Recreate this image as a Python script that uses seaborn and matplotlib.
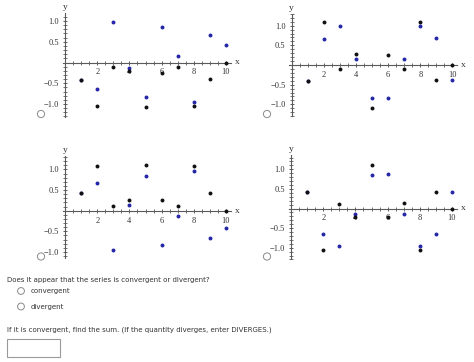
import numpy as np
import pandas as pd
import matplotlib
matplotlib.use("Agg")
import matplotlib.pyplot as plt
import seaborn as sns
from matplotlib.patches import Circle, Rectangle

sns.set_style("white")

# ---- data ----
n = [1, 2, 3, 4, 5, 6, 7, 8, 9, 10]

black_1 = [-0.41, -1.06, -0.10, -0.21, -1.08, -0.25, -0.10, -1.06, -0.40, 0.00]
blue_1 = [-0.41, -0.64, 0.97, -0.14, -0.82, 0.86, 0.15, -0.94, 0.66, 0.41]

black_2 = [-0.41, 1.09, -0.10, 0.28, -1.09, 0.26, -0.10, 1.09, -0.39, 0.00]
blue_2 = [-0.41, 0.66, 0.98, 0.16, -0.83, -0.83, 0.15, 0.98, 0.68, -0.39]

black_3 = [0.42, 1.08, 0.11, 0.26, 1.11, 0.25, 0.12, 1.08, 0.42, 0.00]
blue_3 = [0.42, 0.66, -0.95, 0.15, 0.85, -0.84, -0.14, 0.96, -0.65, -0.41]

black_4 = [0.43, -1.06, 0.11, -0.22, 1.11, -0.22, 0.13, -1.07, 0.43, 0.00]
blue_4 = [0.43, -0.66, -0.96, -0.14, 0.85, 0.87, -0.14, -0.96, -0.66, 0.41]

x_major = [2, 4, 6, 8, 10]
y_major = [-1.0, -0.5, 0.5, 1.0]
y_labels = ["\u22121.0", "\u22120.5", "0.5", "1.0"]

question = "Does it appear that the series is convergent or divergent?"
options = ["convergent", "divergent"]
sum_prompt = "If it is convergent, find the sum. (If the quantity diverges, enter DIVERGES.)"

W, H = 474, 362
fig = plt.figure(figsize=(W / 100, H / 100), dpi=100)

# overlay axes in pixel coordinates for the form elements
ov = fig.add_axes([0, 0, 1, 1], zorder=0)
ov.set_xlim(0, W)
ov.set_ylim(H, 0)
ov.axis("off")

# panel geometry: origin pixel, px per unit x, px per unit y, y-span of axis
panels = [
    (65.0, 62.5, 16.1, 41.5, (-1.31, 1.19), black_1, blue_1, (41, 114)),
    (291.5, 65.0, 16.1, 39.3, (-1.31, 1.31), black_2, blue_2, (267, 114)),
    (65.0, 210.7, 16.1, 41.3, (-1.15, 1.33), black_3, blue_3, (41, 256.5)),
    (291.0, 208.5, 16.1, 39.2, (-1.30, 1.36), black_4, blue_4, (267, 256.5)),
]

axis_col = "#5a5a5a"
text_col = "#333333"
XL, XR = -0.5, 10.9
YB, YT = -1.45, 1.45

for ox, oy, sx, sy, (ylo, yhi), blk, blu, rad in panels:
    left = ox + XL * sx
    width = (XR - XL) * sx
    top = oy - YT * sy
    height = (YT - YB) * sy
    ax = fig.add_axes([left / W, 1 - (top + height) / H, width / W, height / H], zorder=1)
    ax.patch.set_alpha(0)
    df = pd.DataFrame({"n": n, "black": blk, "blue": blu})
    sns.scatterplot(data=df, x="n", y="blue", ax=ax, color="#2626a8", s=8,
                    linewidth=0, zorder=3)
    sns.scatterplot(data=df, x="n", y="black", ax=ax, color="#111111", s=8,
                    linewidth=0, zorder=4)
    ax.set_xlim(XL, XR)
    ax.set_ylim(YB, YT)
    ax.set_xlabel("")
    ax.set_ylabel("")
    for s in ["top", "right"]:
        ax.spines[s].set_visible(False)
    ax.spines["left"].set_position(("data", 0))
    ax.spines["bottom"].set_position(("data", 0))
    ax.spines["left"].set_bounds(ylo, yhi)
    ax.spines["bottom"].set_bounds(-0.15, 10.3)
    for s in ["left", "bottom"]:
        ax.spines[s].set_color(axis_col)
        ax.spines[s].set_linewidth(0.8)
    ax.set_xticks(x_major)
    ax.set_xticks(np.arange(0.5, 10.01, 0.5), minor=True)
    ax.set_yticks(y_major)
    ax.set_yticklabels(y_labels)
    ym = np.round(np.arange(-1.3, 1.31, 0.1), 2)
    ym = ym[(ym >= ylo) & (ym <= yhi)]
    ax.set_yticks(ym, minor=True)
    ax.tick_params(axis="both", which="both", bottom=True, left=True, top=False, right=False)
    ax.tick_params(axis="both", which="major", direction="inout", length=3.5,
                   width=0.7, color=axis_col, labelsize=6.0, labelcolor=text_col, pad=2.5)
    ax.tick_params(axis="both", which="minor", direction="inout", length=2.2,
                   width=0.6, color=axis_col)
    for lab in ax.get_xticklabels() + ax.get_yticklabels():
        lab.set_family("Liberation Serif")
    ax.text(0, yhi + 0.05, "y", ha="center", va="bottom", fontsize=6.8,
            family="Liberation Serif", color=text_col)
    ax.text(10.55, 0, "x", ha="left", va="center", fontsize=6.8,
            family="Liberation Serif", color=text_col)
    ov.add_patch(Circle(rad, 3.6, fill=False, edgecolor="#8a8a8a", linewidth=0.7))

# form text
fs = 5.0
ov.text(7, 280, question, fontsize=fs, family="DejaVu Sans", color="#333333",
        va="center", ha="left")
for i, opt in enumerate(options):
    yy = 291 + i * 15.5
    ov.add_patch(Circle((21, yy), 3.4, fill=False, edgecolor="#8a8a8a", linewidth=0.7))
    ov.text(31, yy, opt, fontsize=fs, family="DejaVu Sans", color="#333333",
            va="center", ha="left")
ov.text(7, 330, sum_prompt, fontsize=fs, family="DejaVu Sans", color="#333333",
        va="center", ha="left")
ov.add_patch(Rectangle((7, 339), 53, 18, fill=False, edgecolor="#9a9a9a", linewidth=0.8))

fig.savefig("out.png", dpi=100)
